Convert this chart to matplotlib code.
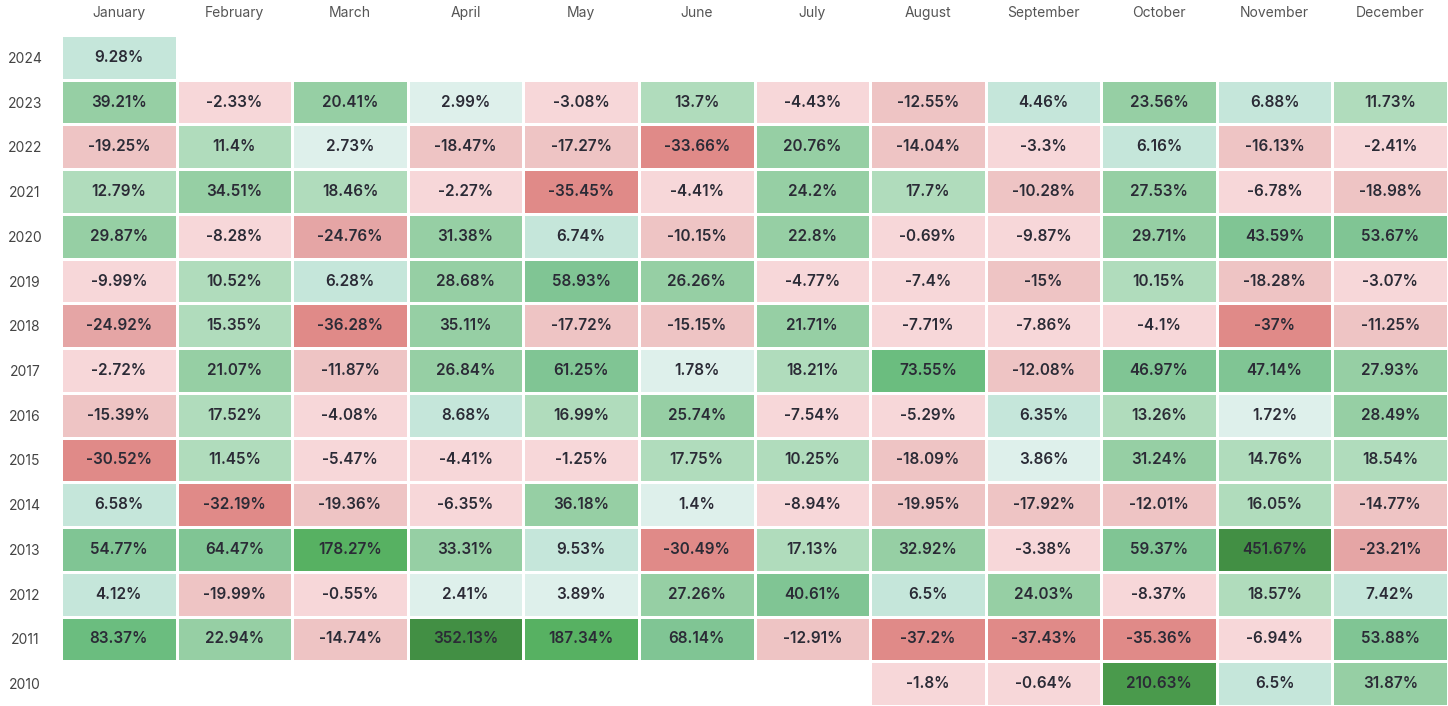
import numpy as np
import matplotlib
matplotlib.use("Agg")
import matplotlib.pyplot as plt
from matplotlib.colors import ListedColormap, BoundaryNorm

plt.rcParams['font.family'] = ['Inter', 'DejaVu Sans']

months = ["January", "February", "March", "April", "May", "June", "July",
          "August", "September", "October", "November", "December"]
years = [2024, 2023, 2022, 2021, 2020, 2019, 2018, 2017, 2016, 2015, 2014,
         2013, 2012, 2011, 2010]
N = None
r2024 = [9.28, N, N, N, N, N, N, N, N, N, N, N]
r2023 = [39.21, -2.33, 20.41, 2.99, -3.08, 13.7, -4.43, -12.55, 4.46, 23.56, 6.88, 11.73]
r2022 = [-19.25, 11.4, 2.73, -18.47, -17.27, -33.66, 20.76, -14.04, -3.3, 6.16, -16.13, -2.41]
r2021 = [12.79, 34.51, 18.46, -2.27, -35.45, -4.41, 24.2, 17.7, -10.28, 27.53, -6.78, -18.98]
r2020 = [29.87, -8.28, -24.76, 31.38, 6.74, -10.15, 22.8, -0.69, -9.87, 29.71, 43.59, 53.67]
r2019 = [-9.99, 10.52, 6.28, 28.68, 58.93, 26.26, -4.77, -7.4, -15, 10.15, -18.28, -3.07]
r2018 = [-24.92, 15.35, -36.28, 35.11, -17.72, -15.15, 21.71, -7.71, -7.86, -4.1, -37, -11.25]
r2017 = [-2.72, 21.07, -11.87, 26.84, 61.25, 1.78, 18.21, 73.55, -12.08, 46.97, 47.14, 27.93]
r2016 = [-15.39, 17.52, -4.08, 8.68, 16.99, 25.74, -7.54, -5.29, 6.35, 13.26, 1.72, 28.49]
r2015 = [-30.52, 11.45, -5.47, -4.41, -1.25, 17.75, 10.25, -18.09, 3.86, 31.24, 14.76, 18.54]
r2014 = [6.58, -32.19, -19.36, -6.35, 36.18, 1.4, -8.94, -19.95, -17.92, -12.01, 16.05, -14.77]
r2013 = [54.77, 64.47, 178.27, 33.31, 9.53, -30.49, 17.13, 32.92, -3.38, 59.37, 451.67, -23.21]
r2012 = [4.12, -19.99, -0.55, 2.41, 3.89, 27.26, 40.61, 6.5, 24.03, -8.37, 18.57, 7.42]
r2011 = [83.37, 22.94, -14.74, 352.13, 187.34, 68.14, -12.91, -37.2, -37.43, -35.36, -6.94, 53.88]
r2010 = [N, N, N, N, N, N, N, -1.8, -0.64, 210.63, 6.5, 31.87]

rows = [r2024, r2023, r2022, r2021, r2020, r2019, r2018, r2017, r2016, r2015,
        r2014, r2013, r2012, r2011, r2010]

bounds = [-1000, -30, -20, -10, 0, 4, 10, 20, 40, 70, 100, 200, 300, 10000]
colors = ["#e08a88", "#e5a5a5", "#eec4c4", "#f7d7d9",
          "#def0eb", "#c5e6da", "#b0dcbc", "#96cfa4", "#80c594", "#6bbd7f",
          "#57b162", "#4a9a4c", "#428f44"]
cmap = ListedColormap(colors)
norm = BoundaryNorm(bounds, cmap.N)

data = np.array([[np.nan if v is None else v for v in r] for r in rows], dtype=float)
masked = np.ma.masked_invalid(data)

fig = plt.figure(figsize=(14.48, 7.06), dpi=100)
ax = fig.add_axes([61 / 1448, 0, 1 - 61 / 1448, 1 - 35 / 706])
ax.pcolormesh(np.arange(13), np.arange(16), masked, cmap=cmap, norm=norm,
              edgecolors="white", linewidth=1.0)
ax.set_xlim(0, 12)
ax.set_ylim(15, 0)

for i, r in enumerate(rows):
    for j, v in enumerate(r):
        if v is None:
            continue
        ax.text(j + 0.5, i + 0.5, f"{v:g}%", ha="center", va="center",
                fontsize=11, fontweight="semibold", color="#2b2b36")

ax.xaxis.tick_top()
ax.set_xticks(np.arange(12) + 0.5)
ax.set_xticklabels(months, fontsize=10, color="#555555", va="center")
ax.set_yticks(np.arange(15) + 0.5)
ax.set_yticklabels([str(y) for y in years], fontsize=10, color="#444444", ha="center")
ax.tick_params(axis="x", length=0, pad=16)
ax.tick_params(axis="y", length=0, pad=26)
for s in ax.spines.values():
    s.set_visible(False)

fig.savefig("out.png", dpi=100, facecolor="white")
